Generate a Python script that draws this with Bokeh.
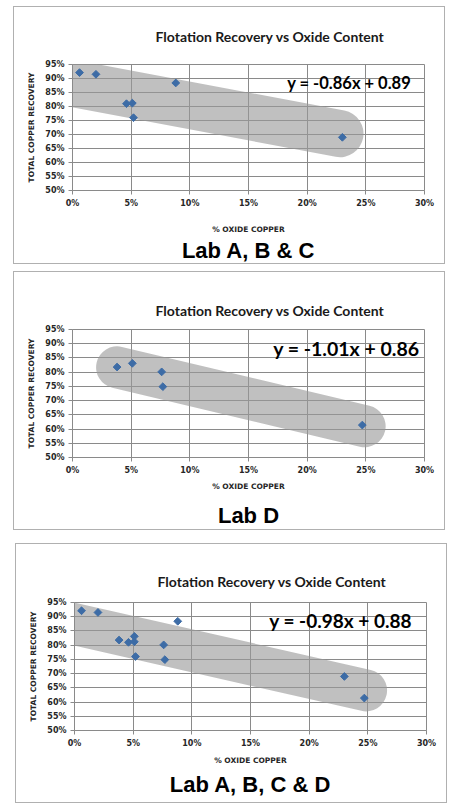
from bokeh.plotting import figure
from bokeh.layouts import column
from bokeh.models import (Range1d, FixedTicker, NumeralTickFormatter, Title,
                          Label, LinearAxis)
from bokeh.embed import file_html
from bokeh.resources import INLINE

# Lab A, B & C
abc_oxide = [0.006, 0.020, 0.046, 0.051, 0.052, 0.088, 0.230]
abc_recovery = [0.921, 0.915, 0.810, 0.812, 0.760, 0.884, 0.690]

# Lab D
d_oxide = [0.038, 0.051, 0.076, 0.077, 0.247]
d_recovery = [0.818, 0.831, 0.801, 0.749, 0.614]

# all four labs together
all_oxide = abc_oxide + d_oxide
all_recovery = abc_recovery + d_recovery

captions = ["Lab A, B & C", "Lab D", "Lab A, B, C & D"]
equations = ["y = -0.86x + 0.89", "y = -1.01x + 0.86", "y = -0.98x + 0.88"]
title_text = "Flotation Recovery vs Oxide Content"

x_ticks = [0.0, 0.05, 0.10, 0.15, 0.20, 0.25, 0.30]
y_ticks = [0.50, 0.55, 0.60, 0.65, 0.70, 0.75, 0.80, 0.85, 0.90, 0.95]

# centre line of the grey highlight band drawn over each chart
band_x = [[-0.03, 0.228], [0.038, 0.249], [-0.03, 0.2485]]
band_y = [[0.906, 0.703], [0.817, 0.610], [0.902, 0.641]]

GRID = "#8a8a8a"
BLUE = "#3d6ca6"
TEXT = "#262626"


def panel(oxide, recovery, caption, eq, bx, by, lay):
    # the css border sits inside width/height, the canvas is 3px smaller
    cw, ch = 432 - 3, lay["h"] - 3
    p = figure(width=432, height=lay["h"], output_backend="svg",
               toolbar_location=None, x_range=Range1d(0, 0.30),
               y_range=Range1d(0.50, 0.95), min_border_left=lay["l"],
               min_border_right=cw - lay["l"] - lay["fw"],
               min_border_top=lay["t"],
               min_border_bottom=ch - lay["t"] - lay["fh"],
               margin=lay["margin"],
               styles={"border": "1.5px solid #b0b0b0"})
    p.background_fill_color = "white"
    p.border_fill_color = "white"
    p.outline_line_color = GRID

    for ax, ticks in ((p.xaxis, x_ticks), (p.yaxis, y_ticks)):
        ax.ticker = FixedTicker(ticks=ticks)
        ax.formatter = NumeralTickFormatter(format="0%")
        ax.axis_line_color = GRID
        ax.major_tick_line_color = GRID
        ax.major_tick_in = 0
        ax.major_tick_out = 4
        ax.minor_tick_line_color = None
        ax.major_label_text_font = "DejaVu Sans"
        ax.major_label_text_font_style = "bold"
        ax.major_label_text_font_size = "8px"
        ax.major_label_text_color = TEXT
        ax.major_label_standoff = 4
        ax.axis_label_text_font = "DejaVu Sans"
        ax.axis_label_text_font_style = "bold"
        ax.axis_label_text_font_size = "7.5px"
        ax.axis_label_text_color = TEXT
    p.xaxis.axis_label = "% OXIDE COPPER"
    p.yaxis.axis_label = "TOTAL COPPER RECOVERY"
    p.xaxis.axis_label_standoff = lay["xlab"]
    p.yaxis.axis_label_standoff = 6

    p.grid.grid_line_color = GRID
    p.grid.grid_line_width = 1
    p.xgrid.ticker = FixedTicker(ticks=x_ticks)
    p.ygrid.ticker = FixedTicker(ticks=y_ticks)

    p.add_layout(Title(text=title_text, text_font="Lato",
                       text_font_style="bold", text_font_size="14px",
                       text_color="#1a1a1a", align="left", offset=83,
                       vertical_align="middle", standoff=lay["ts"]), "above")

    # caption under the chart: a bare axis that only carries a label
    cap = LinearAxis(ticker=FixedTicker(ticks=[]), axis_label=caption,
                     axis_line_color=None, major_tick_line_color=None,
                     minor_tick_line_color=None, major_tick_out=0,
                     major_tick_in=0, axis_label_standoff=lay["cap"],
                     axis_label_text_font="Liberation Sans",
                     axis_label_text_font_style="bold",
                     axis_label_text_font_size="22px",
                     axis_label_text_color="black")
    p.add_layout(cap, "below")

    p.line(bx, by, line_width=lay["bw"], line_cap="round",
           line_color="#9a9a9a", line_alpha=0.62)
    p.scatter(oxide, recovery, marker="square", angle=0.785, size=5.5,
              fill_color=BLUE, line_color=BLUE)

    p.add_layout(Label(x=lay["eq"][0], y=lay["eq"][1], text=eq,
                       text_font="Lato", text_font_style="bold",
                       text_font_size=lay["eqs"], text_color="black",
                       text_baseline="middle"))
    return p


layouts = [
    dict(margin=(6, 0, 0, 13), h=258, l=58, fw=350, t=57, fh=124, ts=38,
         xlab=14, cap=1, bw=47, eq=(0.183, 0.885), eqs="16.5px"),
    dict(margin=(7, 0, 0, 13), h=259, l=57, fw=351, t=57, fh=125, ts=20,
         xlab=4, cap=9, bw=42, eq=(0.171, 0.882), eqs="19.5px"),
    dict(margin=(13, 0, 0, 15), h=260, l=58, fw=349, t=58, fh=125, ts=24,
         xlab=5, cap=4, bw=42, eq=(0.166, 0.885), eqs="19px"),
]
series = [(abc_oxide, abc_recovery), (d_oxide, d_recovery),
          (all_oxide, all_recovery)]

plots = []
for i in range(3):
    plots.append(panel(series[i][0], series[i][1], captions[i], equations[i],
                       band_x[i], band_y[i], layouts[i]))

page = column(*plots)
open("out.html", "w").write(file_html(page, INLINE))
